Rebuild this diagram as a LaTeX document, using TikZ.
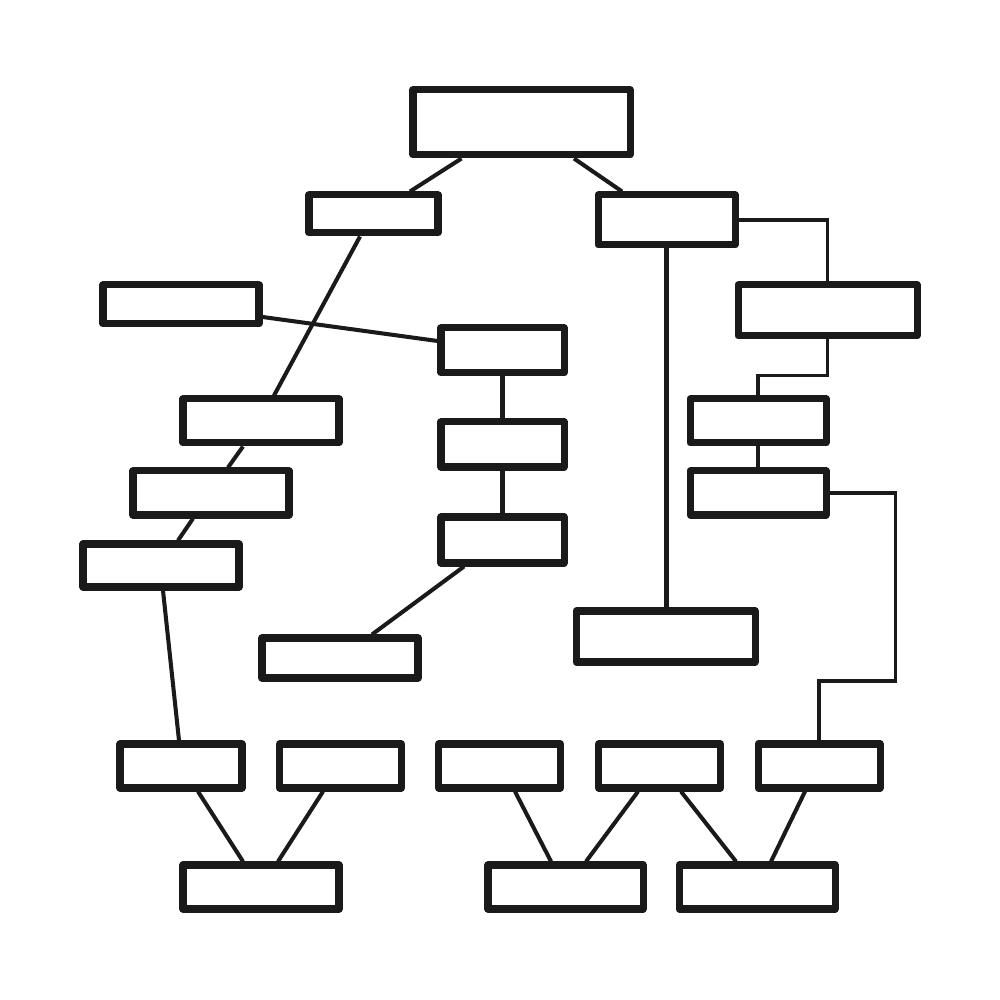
\documentclass[tikz,border=0pt]{standalone}
\usetikzlibrary{calc}
\definecolor{ink}{HTML}{1A1A1A}
\tikzset{card/.style={draw=ink,line width=2pt,line join=round,fill=white,inner sep=0pt,minimum height=0.44cm}}
\tikzset{link/.style={draw=ink,line width=1.15pt}}
\tikzset{elbow/.style={draw=ink,line width=0.9pt}}

\begin{document}
\begin{tikzpicture}
        \useasboundingbox (0,0) rectangle (10,10);
        % draw the boxes (upper part)
        \node[card,minimum width=2.17cm,minimum height=0.65cm] (top) at (5.215,8.775) {};
        \node[card,minimum width=1.29cm,minimum height=0.38cm] (lone) at (3.735,7.86) {};
        \node[card,minimum width=1.37cm,minimum height=0.50cm] (rone) at (6.665,7.80) {};
        \node[card,minimum width=1.56cm,minimum height=0.39cm] (far) at (1.81,6.955) {};
        \node[card,minimum width=1.23cm,minimum height=0.45cm] (mone) at (5.025,6.495) {};
        \node[card,minimum width=1.79cm,minimum height=0.51cm] (rtwo) at (8.275,6.895) {};
        \node[card,minimum width=1.56cm] (ltwo) at (2.61,5.79) {};
        \node[card,minimum width=1.23cm,minimum height=0.45cm] (mtwo) at (5.025,5.555) {};
        \node[card,minimum width=1.36cm] (rthree) at (7.58,5.79) {};
        \node[card,minimum width=1.56cm] (lthree) at (2.11,5.07) {};
        \node[card,minimum width=1.36cm] (rfour) at (7.58,5.07) {};
        \node[card,minimum width=1.23cm,minimum height=0.46cm] (mthree) at (5.025,4.60) {};
        \node[card,minimum width=1.56cm,minimum height=0.43cm] (lfour) at (1.61,4.345) {};
        \node[card,minimum width=1.56cm,minimum height=0.40cm] (mfour) at (3.40,3.42) {};
        \node[card,minimum width=1.79cm,minimum height=0.51cm] (rfive) at (6.655,3.635) {};
        % draw the boxes (bottom rows)
        \node[card,minimum width=1.22cm] (bA) at (1.81,2.34) {};
        \node[card,minimum width=1.22cm] (bB) at (3.405,2.34) {};
        \node[card,minimum width=1.22cm] (bC) at (4.995,2.34) {};
        \node[card,minimum width=1.22cm] (bD) at (6.595,2.34) {};
        \node[card,minimum width=1.22cm] (bE) at (8.19,2.34) {};
        \node[card,minimum width=1.56cm] (cA) at (2.61,1.13) {};
        \node[card,minimum width=1.55cm] (cB) at (5.655,1.13) {};
        \node[card,minimum width=1.56cm] (cC) at (7.57,1.13) {};
        % draw the straight links
        \draw[link] ([xshift=-0.6cm]top.south) -- ([xshift=0.365cm]lone.north);
        \draw[link] ([xshift=0.525cm]top.south) -- ([xshift=-0.445cm]rone.north);
        \draw[link] ([xshift=-0.135cm]lone.south) -- ([xshift=0.13cm]ltwo.north);
        \draw[link] ([xshift=-0.18cm]ltwo.south) -- ([xshift=0.17cm]lthree.north);
        \draw[link] ([xshift=-0.18cm]lthree.south) -- ([xshift=0.17cm]lfour.north);
        \draw[link] ([xshift=0.02cm]lfour.south) -- ([xshift=-0.02cm]bA.north);
        \draw[link] ([yshift=-0.125cm]far.east) -- ([yshift=0.095cm]mone.west);
        \draw[link] (mone.south) -- (mtwo.north);
        \draw[link] (mtwo.south) -- (mthree.north);
        \draw[link] ([xshift=-0.385cm]mthree.south) -- ([xshift=0.32cm]mfour.north);
        \draw[link] (rone.south) -- (rone.south |- rfive.north);
        % draw the elbow links
        \draw[elbow] (rone.east) -| (rtwo.north);
        \draw[elbow] (rtwo.south) -- ++(0,-0.36) -| (rthree.north);
        \draw[elbow] (rthree.south) -- (rfour.north);
        \draw[elbow] (rfour.east) -- ++(0.66,0) -- ++(0,-1.88) -| (bE.north);
        % draw the bottom links
        \draw[link] ([xshift=0.17cm]bA.south) -- ([xshift=-0.18cm]cA.north);
        \draw[link] ([xshift=-0.175cm]bB.south) -- ([xshift=0.17cm]cA.north);
        \draw[link] ([xshift=0.155cm]bC.south) -- ([xshift=-0.145cm]cB.north);
        \draw[link] ([xshift=-0.215cm]bD.south) -- ([xshift=0.205cm]cB.north);
        \draw[link] ([xshift=0.215cm]bD.south) -- ([xshift=-0.21cm]cC.north);
        \draw[link] ([xshift=-0.14cm]bE.south) -- ([xshift=0.14cm]cC.north);
\end{tikzpicture}
\end{document}
